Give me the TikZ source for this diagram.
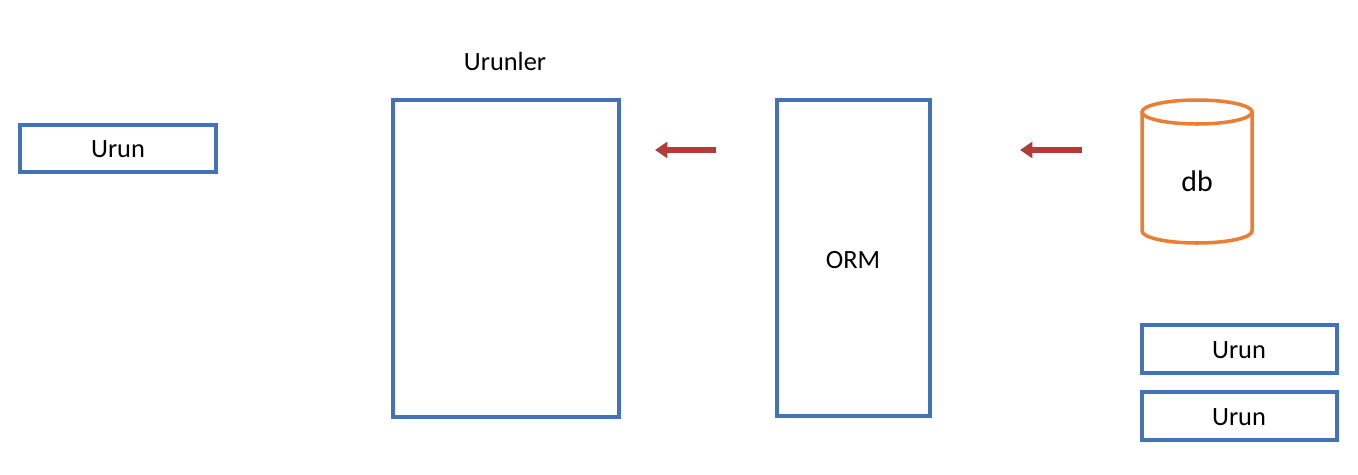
\documentclass[tikz,border=0pt]{standalone}
\usepackage{fontspec}
\setmainfont{Carlito}
\usetikzlibrary{arrows.meta}
\definecolor{bx}{RGB}{68,114,182}
\definecolor{og}{RGB}{237,125,49}
\definecolor{ar}{RGB}{180,60,56}
\begin{document}
\begin{tikzpicture}[x=0.02cm,y=-0.02cm,
  box/.style={draw=bx,line width=2pt,inner sep=0},
  lbl/.style={font=\fontsize{15}{17}\selectfont},
  arr/.style={draw=ar,line width=3pt,-{Triangle[length=7pt,width=9pt]}}]
\useasboundingbox (0,0) rectangle (1358,474);
\draw[box] (20,125) rectangle (216,172);
\node[lbl] (u1) at (118,149) {Urun};
\draw[box] (393,100) rectangle (619,417);
\node[lbl] (ul) at (505,61) {Urunler};
\draw[box] (777,100) rectangle (930,416);
\node[lbl] (orm) at (853,260) {ORM};
\draw[og,line width=2pt,fill=white] (1142,112) -- (1142,231) arc[start angle=180,end angle=0,x radius=55,y radius=12] -- (1252,112);
\draw[og,line width=2pt] (1197,112) ellipse[x radius=55,y radius=12];
\node[lbl,font=\fontsize{17}{19}\selectfont] (db) at (1197,181) {db};
\draw[box] (1142,325) rectangle (1337,373);
\node[lbl] (u2) at (1239,350) {Urun};
\draw[box] (1142,392) rectangle (1337,440);
\node[lbl] (u3) at (1239,417) {Urun};
\coordinate (a1s) at (716,150); \coordinate (a1e) at (655,150);
\coordinate (a2s) at (1082,150); \coordinate (a2e) at (1020,150);
\draw[arr] (a1s) -- (a1e);
\draw[arr] (a2s) -- (a2e);
\end{tikzpicture}
\end{document}
